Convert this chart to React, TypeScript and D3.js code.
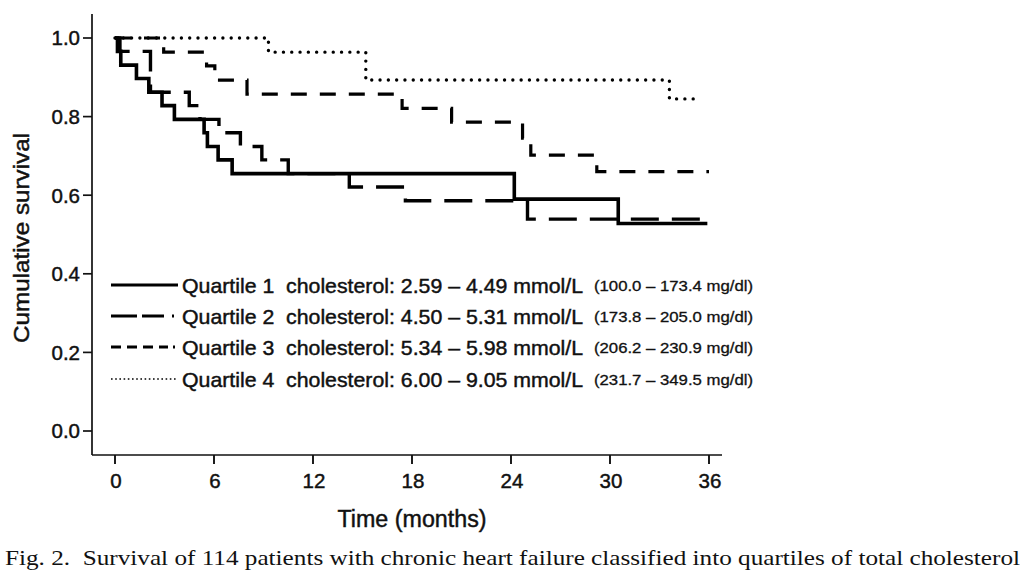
import React from 'react';
import * as d3 from 'd3';

// Kaplan-Meier steps: [month, cumulative survival]
const quartile1: [number, number][] = [
  [0, 1], [0.15, 0.966], [0.35, 0.931], [1.3, 0.897], [2.05, 0.862], [2.85, 0.828],
  [3.6, 0.793], [5.4, 0.759], [5.6, 0.724], [6.25, 0.69], [7.1, 0.655],
  [24.2, 0.59], [30.5, 0.528], [35.9, 0.528],
];
const quartile2: [number, number][] = [
  [0, 1], [0.3, 0.966], [2.15, 0.862], [4.5, 0.828], [5.15, 0.793], [6.3, 0.759],
  [7.6, 0.724], [8.9, 0.69], [10.5, 0.655], [14.2, 0.621], [17.6, 0.586],
  [25.0, 0.539], [35.9, 0.539],
];
const quartile3: [number, number][] = [
  [0, 1], [2.95, 0.964], [5.55, 0.929], [6.05, 0.893], [8.0, 0.857], [17.4, 0.821],
  [20.4, 0.786], [24.7, 0.745], [25.2, 0.702], [29.2, 0.66], [36, 0.66],
];
const quartile4: [number, number][] = [
  [0, 1], [9.3, 0.964], [15.2, 0.893], [33.6, 0.845], [35.5, 0.845],
];

const monthTicks = [0, 6, 12, 18, 24, 30, 36];
const survivalTicks = [0, 0.2, 0.4, 0.6, 0.8, 1.0];

const quartileNames = ['Quartile 1', 'Quartile 2', 'Quartile 3', 'Quartile 4'];
const mmolRanges = ['2.59 – 4.49', '4.50 – 5.31', '5.34 – 5.98', '6.00 – 9.05'];
const mgRanges = [
  '(100.0 – 173.4 mg/dl)',
  '(173.8 – 205.0 mg/dl)',
  '(206.2 – 230.9 mg/dl)',
  '(231.7 – 349.5 mg/dl)',
];

const sans = '"Liberation Sans", Arial, Helvetica, sans-serif';
const serif = '"Liberation Serif", "Times New Roman", serif';
const ink = '#111';

const curveStyles = [
  { dash: 'none', width: 3.6, cap: 'butt' },
  { dash: '28,13', width: 3.4, cap: 'butt' },
  { dash: '16,13', width: 3.2, cap: 'butt' },
  { dash: '0,8.3', width: 3.4, cap: 'round' },
];
const legendStyles = [
  { dash: 'none', width: 2.8, cap: 'butt' },
  { dash: '26,5,22,8,2,60', width: 3, cap: 'butt' },
  { dash: '10,6,10,6,10,6,9,5,2,60', width: 3, cap: 'butt' },
  { dash: '1.6,2.6', width: 1.7, cap: 'butt' },
];

// a touch of outline so the type looks as heavy as the scanned figure
const heavy = { stroke: ink, strokeWidth: 0.45 };

export default function App() {
  const x = d3.scaleLinear().domain([0, 36]).range([115, 709]);
  const y = d3.scaleLinear().domain([0, 1]).range([431, 38]);

  const line = d3
    .line<[number, number]>()
    .x((d) => x(d[0]))
    .y((d) => y(d[1]))
    .curve(d3.curveStepAfter);

  const series = [quartile1, quartile2, quartile3, quartile4];
  const axisY = 455;
  const axisX = 92;
  const legendRows = [285, 316, 347, 379];

  return (
    <svg
      width={1024}
      height={574}
      style={{ position: 'absolute', left: 0, top: 0, background: '#fff' }}
    >
      <rect width={1024} height={574} fill="#fff" />

      {/* axes */}
      <line x1={axisX} x2={axisX} y1={14} y2={axisY} stroke={ink} strokeWidth={1.7} />
      <line x1={axisX} x2={722} y1={axisY} y2={axisY} stroke={ink} strokeWidth={1.7} />

      {survivalTicks.map((t) => (
        <g key={t}>
          <line x1={83} x2={axisX} y1={y(t)} y2={y(t)} stroke={ink} strokeWidth={1.7} />
          <text
            x={80}
            y={y(t)}
            dy="0.36em"
            textAnchor="end"
            fontFamily={sans}
            fontSize={20.5}
            fill={ink}
            {...heavy}
          >
            {d3.format('.1f')(t)}
          </text>
        </g>
      ))}

      {monthTicks.map((m) => (
        <g key={m}>
          <line x1={x(m)} x2={x(m)} y1={axisY} y2={464} stroke={ink} strokeWidth={1.9} />
          <text
            x={x(m) + 1}
            y={488}
            textAnchor="middle"
            fontFamily={sans}
            fontSize={20.5}
            fill={ink}
            {...heavy}
          >
            {m}
          </text>
        </g>
      ))}

      <text
        transform="translate(29,238) rotate(-90)"
        textAnchor="middle"
        fontFamily={sans}
        fontSize={22}
        fill={ink}
        textLength={210}
        lengthAdjust="spacingAndGlyphs"
        {...heavy}
      >
        Cumulative survival
      </text>
      <text
        x={412}
        y={527}
        textAnchor="middle"
        fontFamily={sans}
        fontSize={23}
        fill={ink}
        textLength={149}
        lengthAdjust="spacingAndGlyphs"
        {...heavy}
      >
        Time (months)
      </text>

      {/* survival curves */}
      {series.map((s, i) => (
        <path
          key={i}
          d={line(s) ?? ''}
          fill="none"
          stroke="#000"
          strokeWidth={curveStyles[i].width}
          strokeDasharray={curveStyles[i].dash}
          strokeLinecap={curveStyles[i].cap as any}
        />
      ))}

      {/* legend */}
      {quartileNames.map((name, i) => (
        <g key={name}>
          <line
            x1={111}
            x2={178}
            y1={legendRows[i]}
            y2={legendRows[i]}
            stroke="#000"
            strokeWidth={legendStyles[i].width}
            strokeDasharray={legendStyles[i].dash}
          />
          <text
            x={182}
            y={legendRows[i]}
            dy="0.36em"
            fontFamily={sans}
            fontSize={21}
            fill={ink}
            textLength={401}
            lengthAdjust="spacingAndGlyphs"
            style={{ whiteSpace: 'pre' }}
            {...heavy}
          >
            {`${name}  cholesterol: ${mmolRanges[i]} mmol/L`}
          </text>
          <text
            x={594}
            y={legendRows[i] + 1}
            dy="0.36em"
            fontFamily={sans}
            fontSize={14.5}
            fill={ink}
            textLength={159}
            lengthAdjust="spacingAndGlyphs"
            stroke={ink}
            strokeWidth={0.3}
          >
            {mgRanges[i]}
          </text>
        </g>
      ))}

      {/* caption */}
      <text
        x={5}
        y={565}
        fontFamily={serif}
        fontSize={22}
        fill={ink}
        textLength={1015}
        lengthAdjust="spacingAndGlyphs"
        style={{ whiteSpace: 'pre' }}
      >
        Fig. 2.  Survival of 114 patients with chronic heart failure classified into quartiles of total cholesterol
      </text>
    </svg>
  );
}
